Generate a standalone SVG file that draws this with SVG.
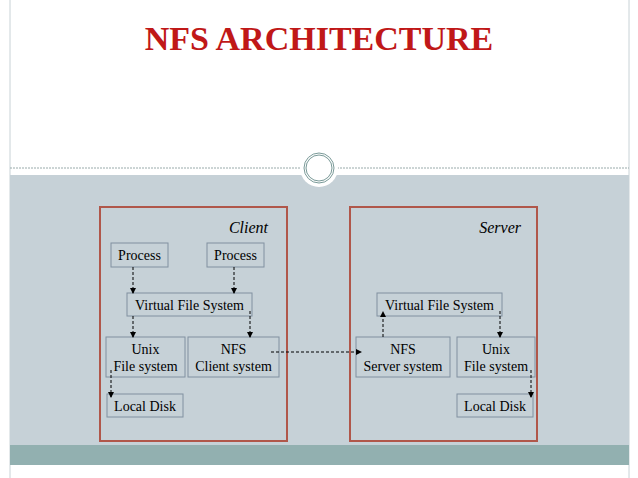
<svg xmlns="http://www.w3.org/2000/svg" width="638" height="478" viewBox="0 0 638 478">
<style>
.b{fill:none;stroke:#8090a0;stroke-width:1}
.t{font-family:"Liberation Serif",serif;font-size:14px;fill:#000;text-anchor:middle}
.h{font-family:"Liberation Serif",serif;font-style:italic;font-size:16px;fill:#000;text-anchor:end}
.c{stroke:#000;stroke-width:1;stroke-dasharray:3,2;fill:none;marker-end:url(#a)}
.f{fill:none;stroke:#b0574a;stroke-width:2}
</style>
<defs><marker id="a" markerWidth="6" markerHeight="6" refX="5" refY="3" orient="auto"><path d="M0,0L6,3L0,6z" fill="#000"/></marker></defs>
<rect width="638" height="478" fill="#fff"/>
<line x1="10" y1="0" x2="10" y2="478" stroke="#c8d2d6"/>
<line x1="629" y1="0" x2="629" y2="478" stroke="#c8d2d6"/>
<rect x="10" y="175" width="619" height="270" fill="#c6d1d7"/>
<rect x="10" y="445" width="619" height="20" fill="#92b0b0"/>
<line x1="10" y1="168" x2="629" y2="168" stroke="#9aa" stroke-dasharray="2,1"/>
<circle cx="319" cy="168" r="19" fill="#fff"/>
<circle cx="319" cy="168" r="15" fill="#fff" stroke="#7a9a98" stroke-width="1"/>
<circle cx="319" cy="168" r="13" fill="none" stroke="#7a9a98" stroke-width="1"/>
<text x="319" y="50" style="font-family:'Liberation Serif',serif;font-weight:bold;font-size:34px" fill="#c01818" text-anchor="middle">NFS ARCHITECTURE</text>
<g id="client"><rect class="f" x="100" y="207" width="187" height="234"/><text class="h" x="268" y="233">Client</text></g>
<g id="server"><rect class="f" x="350" y="207" width="187" height="234"/><text class="h" x="521" y="233">Server</text></g>
<g id="p1"><rect class="b" x="111" y="243" width="57" height="24"/><text class="t" x="139.5" y="260">Process</text></g>
<g id="p2"><rect class="b" x="207" y="243" width="57" height="24"/><text class="t" x="235.5" y="260">Process</text></g>
<g id="cvfs"><rect class="b" x="127" y="293" width="125" height="23"/><text class="t" x="189.5" y="310">Virtual File System</text></g>
<g id="cunix"><rect class="b" x="106" y="337" width="79" height="40"/><text class="t" x="145.5" y="354">Unix</text><text class="t" x="145.5" y="371">File system</text></g>
<g id="cnfs"><rect class="b" x="188" y="337" width="91" height="40"/><text class="t" x="233.5" y="354">NFS</text><text class="t" x="233.5" y="371">Client system</text></g>
<g id="cdisk"><rect class="b" x="107" y="394" width="76" height="23"/><text class="t" x="145" y="411">Local Disk</text></g>
<g id="svfs"><rect class="b" x="377" y="293" width="125" height="23"/><text class="t" x="439.5" y="310">Virtual File System</text></g>
<g id="snfs"><rect class="b" x="356" y="337" width="94" height="40"/><text class="t" x="403" y="354">NFS</text><text class="t" x="403" y="371">Server system</text></g>
<g id="sunix"><rect class="b" x="457" y="337" width="78" height="40"/><text class="t" x="496" y="354">Unix</text><text class="t" x="496" y="371">File system</text></g>
<g id="sdisk"><rect class="b" x="457" y="394" width="76" height="23"/><text class="t" x="495" y="411">Local Disk</text></g>
<g id="connectors">
<path class="c" d="M133,267V293"/>
<path class="c" d="M234,267V293"/>
<path class="c" d="M133,316V337"/>
<path class="c" d="M250,311V337"/>
<path class="c" d="M111,370V397"/>
<path class="c" d="M271,352H361"/>
<path class="c" d="M383,337V312"/>
<path class="c" d="M500,311V337"/>
<path class="c" d="M531,370V397"/>
</g>
</svg>
